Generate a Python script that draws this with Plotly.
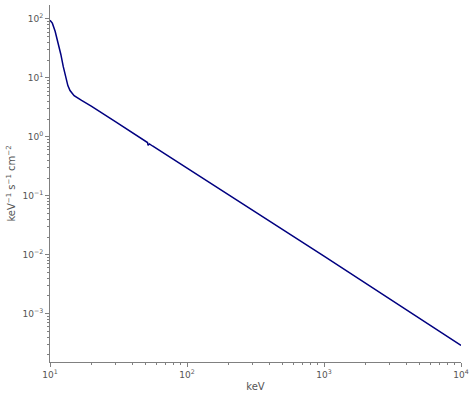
import plotly.graph_objects as go

# Spectrum (keV, keV^-1 s^-1 cm^-2)
energy_kev = [10.0, 10.4, 10.9, 11.5, 12.0, 12.5, 13.0, 13.5, 14.0, 15.0, 17.0, 20.0,
              30.0, 50.0, 51.5, 52.0, 53.2, 56.0, 100.0, 1000.0, 10000.0]
flux = [95.0, 85.0, 62.0, 38.0, 25.0, 15.5, 10.2, 7.4, 6.1, 5.0, 4.15, 3.33,
        1.82, 0.84, 0.80, 0.72, 0.76, 0.70, 0.294, 0.0095, 0.00029]

x_tick_vals = [10, 100, 1000, 10000]
x_tick_text = ["10<sup>1</sup>", "10<sup>2</sup>", "10<sup>3</sup>", "10<sup>4</sup>"]
y_tick_vals = [1e-3, 1e-2, 1e-1, 1, 10, 100]
y_tick_text = ["10<sup>−3</sup>", "10<sup>−2</sup>", "10<sup>−1</sup>",
               "10<sup>0</sup>", "10<sup>1</sup>", "10<sup>2</sup>"]

x_minor = [m * 10 ** e for e in range(1, 4) for m in range(2, 10)]
y_minor = [m * 10 ** e for e in range(-4, 3) for m in range(2, 10)]

AX = "#808080"
TXT = "#555555"
FONT = "DejaVu Sans"

fig = go.Figure()
fig.add_trace(go.Scatter(x=energy_kev, y=flux, mode="lines",
                         line=dict(color="#000080", width=1.5),
                         showlegend=False))

fig.update_layout(
    width=474, height=401,
    margin=dict(l=50, r=13, t=5, b=39, autoexpand=False),
    paper_bgcolor="white", plot_bgcolor="white",
    font=dict(family=FONT, size=9, color=TXT),
)
fig.update_xaxes(
    type="log", range=[1, 4], automargin=False,
    showgrid=False, zeroline=False,
    showline=True, linecolor=AX, linewidth=1,
    ticks="outside", ticklen=4, tickcolor=AX, tickwidth=1,
    tickvals=x_tick_vals, ticktext=x_tick_text,
    tickfont=dict(size=9, color=TXT, family=FONT),
    minor=dict(tickvals=x_minor, ticks="outside", ticklen=2, tickcolor=AX, showgrid=False),
    title=dict(text="keV", font=dict(size=10, color=TXT, family=FONT), standoff=4),
)
fig.update_yaxes(
    type="log", range=[-3.819, 2.237], automargin=False,
    showgrid=False, zeroline=False,
    showline=True, linecolor=AX, linewidth=1,
    ticks="outside", ticklen=4, tickcolor=AX, tickwidth=1,
    tickvals=y_tick_vals, ticktext=y_tick_text,
    tickfont=dict(size=9, color=TXT, family=FONT),
    minor=dict(tickvals=y_minor, ticks="outside", ticklen=2, tickcolor=AX, showgrid=False),
    title=dict(text="keV<sup>−1</sup> s<sup>−1</sup> cm<sup>−2</sup>",
               font=dict(size=10, color=TXT, family=FONT), standoff=4),
)

fig.write_html("out.html",
               config={"displayModeBar": False},
               post_script="document.body.style.margin='0';document.body.style.overflow='hidden';")
